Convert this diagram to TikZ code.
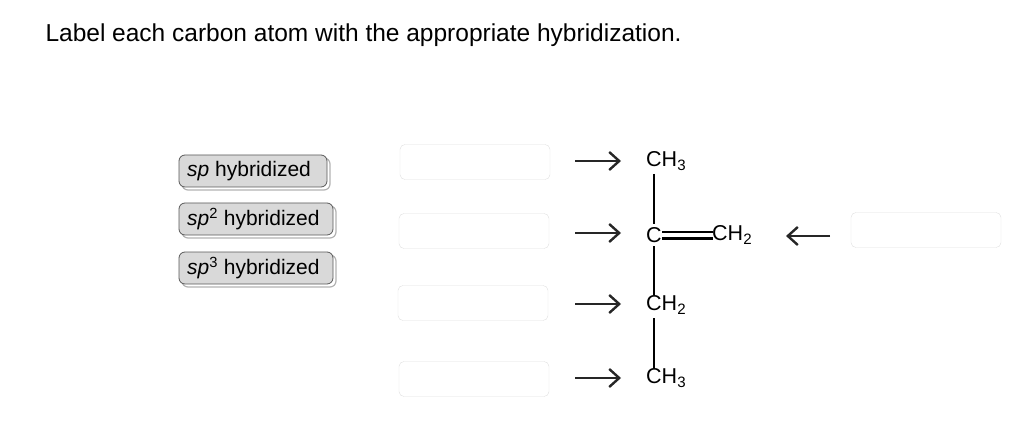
\documentclass[tikz,border=0pt]{standalone}
\usepackage{fontspec}
\setmainfont{Liberation Sans}
\usetikzlibrary{arrows.meta}
\begin{document}
\begin{tikzpicture}[x=1pt,y=-1pt,
 btn/.style={draw=gray!70!black,fill=gray!30,rounded corners=6pt,line width=0.8pt},
 drop/.style={draw=gray!25,rounded corners=5pt,minimum width=150pt,minimum height=35pt},
 arr/.style={-{Straight Barb[length=10pt,width=18pt,line width=2.4pt]},line width=2.6pt,draw=black!85},
 atom/.style={font=\fontsize{21.5}{24}\selectfont,inner sep=1pt},
 bond/.style={line width=2.4pt}]
\useasboundingbox (0,0) rectangle (1024,438);
\node[anchor=base west,font=\fontsize{24.5}{28}\selectfont] (title) at (42,42) {Label each carbon atom with the appropriate hybridization.};
\foreach \n/\y/\w/\t in {b1/171/148/{\textit{sp} hybridized},b2/219/154/{\textit{sp}\textsuperscript{2} hybridized},b3/268/154/{\textit{sp}\textsuperscript{3} hybridized}}{
 \draw[gray!60,line width=1.2pt,rounded corners=6pt] (179+3,\y-16+3) rectangle (179+\w+3,\y+16+3);
 \draw[btn] (179,\y-16) rectangle (179+\w,\y+16);
 \node[anchor=west,font=\fontsize{21}{24}\selectfont,inner sep=0pt] (\n) at (187,\y) {\t};}
\node[drop] (d1) at (475,162) {};
\node[drop] (d2) at (474,231) {};
\node[drop] (d3) at (473,303) {};
\node[drop] (d4) at (474,379) {};
\node[drop] (d5) at (926,230) {};
\node[atom,anchor=west] (c1) at (645,161) {CH\textsubscript{3}};
\node[atom] (c2) at (654,235) {C};
\node[atom,anchor=west] (c3) at (645,305) {CH\textsubscript{2}};
\node[atom,anchor=west] (c4) at (645,378) {CH\textsubscript{3}};
\node[atom,anchor=west] (c5) at (711,235) {CH\textsubscript{2}};
\coordinate (a1) at (575,161); \coordinate (e1) at (621,161);
\coordinate (a2) at (575,233); \coordinate (e2) at (621,233);
\coordinate (a3) at (575,304); \coordinate (e3) at (621,304);
\coordinate (a4) at (575,378); \coordinate (e4) at (621,378);
\coordinate (a5) at (830,236); \coordinate (e5) at (786,236);
\foreach \i in {1,...,5} \draw[arr] (a\i) -- (e\i);
\draw[bond] (654,174) -- (654,224);
\draw[bond] (654,246) -- (654,295);
\draw[bond] (654,318) -- (654,368);
\draw[bond] (662,232) -- (713,232);
\draw[bond] (662,238.5) -- (713,238.5);
\end{tikzpicture}
\end{document}
